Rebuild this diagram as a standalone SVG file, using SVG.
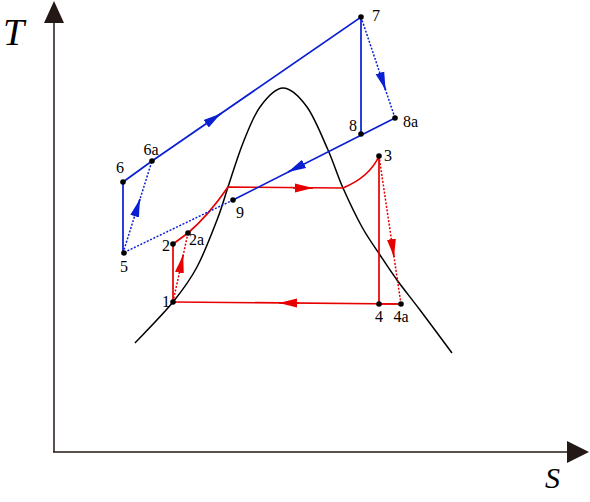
<svg xmlns="http://www.w3.org/2000/svg" width="590" height="502" viewBox="0 0 590 502">
<style>
.lbl{font-family:"Liberation Serif","Times New Roman",serif;font-size:16px;fill:#000}
.ax{font-family:"Liberation Serif","Times New Roman",serif;font-style:italic;fill:#000}
.red{stroke:#e60000;stroke-width:1.7;fill:none}
.blue{stroke:#0a1ed2;stroke-width:1.7;fill:none}
.dot{stroke-dasharray:2 1.6;stroke-width:1.5}
.pt{fill:#000}
</style>
<defs>
<marker id="ahR" markerUnits="userSpaceOnUse" markerWidth="20" markerHeight="12" refX="18" refY="5" orient="auto"><path d="M0,0.5 L18,5 L0,9.5 z" fill="#e60000"/></marker>
<marker id="ahB" markerUnits="userSpaceOnUse" markerWidth="20" markerHeight="12" refX="18" refY="5" orient="auto"><path d="M0,0.5 L18,5 L0,9.5 z" fill="#0a1ed2"/></marker>
</defs>
<rect width="590" height="502" fill="#fff"/>
<g id="axes">
<line x1="54" y1="452" x2="54" y2="20" stroke="#231815" stroke-width="1.5"/>
<polygon points="54,1 44,23 64,23" fill="#231815"/>
<line x1="53" y1="452" x2="568" y2="452" stroke="#231815" stroke-width="1.5"/>
<polygon points="589,452 567,441 567,463" fill="#231815"/>
<text class="ax" x="3" y="45" font-size="38">T</text>
<text class="ax" x="545" y="488" font-size="30">S</text>
</g>
<g id="dome">
<path d="M135,343 C141.3,336.2 162.7,314.7 173,302 C183.3,289.3 189.7,280.7 197,267 C204.3,253.3 211.8,233.3 217,220 C222.2,206.7 223.7,199.8 228,187 C232.3,174.2 237.7,156.3 243,143 C248.3,129.7 253.3,116.2 260,107 C266.7,97.8 275.2,88 283,88 C290.8,88 299.5,96.7 307,107 C314.5,117.3 322,136.5 328,150 C334,163.5 337.3,175.2 343,188 C348.7,200.8 355.8,215.8 362,227 C368.2,238.2 374.2,246.2 380,255 C385.8,263.8 390.3,270.8 397,280 C403.7,289.2 410.8,297.8 420,310 C429.2,322.2 446.7,345.8 452,353" fill="none" stroke="#000" stroke-width="1.5"/>
</g>
<g id="connectors">
<path class="red" d="M173,302 L173,244 L188,233 Q208,216 228,187 L343,188 C355,183 371,174 379,156 L379,304 L401,304"/>
<line class="red" x1="173" y1="302" x2="401" y2="304"/>
<line class="red dot" x1="173" y1="302" x2="188" y2="233"/>
<line class="red dot" x1="379" y1="156" x2="401" y2="304"/>
<path class="blue" d="M123,253 L123,182 L152,161 L361,17 L361,134"/>
<line class="blue" x1="395" y1="118" x2="233" y2="200"/>
<line class="blue dot" x1="123" y1="253" x2="152" y2="161"/>
<line class="blue dot" x1="361" y1="17" x2="395" y2="118"/>
<line class="blue dot" x1="233" y1="200" x2="123" y2="253"/>
<path class="red" d="M293,188 L313,188" marker-end="url(#ahR)"/>
<path class="red" d="M299,303 L279,303" marker-end="url(#ahR)"/>
<path class="red" stroke-width="1" d="M179.4,272.6 L183.2,255" marker-end="url(#ahR)"/>
<path class="red" stroke-width="1" d="M391.4,239.2 L394,257" marker-end="url(#ahR)"/>
<path class="blue" d="M206.2,123.7 L221,113.5" marker-end="url(#ahB)"/>
<path class="blue" stroke-width="1" d="M134.6,216.2 L140,199" marker-end="url(#ahB)"/>
<path class="blue" d="M304,163.9 L288,172" marker-end="url(#ahB)"/>
<path class="blue" stroke-width="1" d="M379.9,72.9 L385.6,90" marker-end="url(#ahB)"/>
</g>
<g id="n1"><circle class="pt" cx="173" cy="302" r="2.8"/><text class="lbl" x="170" y="307" text-anchor="end">1</text></g>
<g id="n2"><circle class="pt" cx="173" cy="244" r="2.8"/><text class="lbl" x="170" y="251" text-anchor="end">2</text></g>
<g id="n2a"><circle class="pt" cx="188" cy="233" r="2.8"/><text class="lbl" x="189" y="245">2a</text></g>
<g id="n3"><circle class="pt" cx="379" cy="156" r="2.8"/><text class="lbl" x="384" y="161">3</text></g>
<g id="n4"><circle class="pt" cx="379" cy="304" r="2.8"/><text class="lbl" x="379" y="322" text-anchor="middle">4</text></g>
<g id="n4a"><circle class="pt" cx="401" cy="304" r="2.8"/><text class="lbl" x="401" y="322" text-anchor="middle">4a</text></g>
<g id="n5"><circle class="pt" cx="124" cy="253" r="2.8"/><text class="lbl" x="124" y="272" text-anchor="middle">5</text></g>
<g id="n6"><circle class="pt" cx="123" cy="182" r="2.8"/><text class="lbl" x="120" y="173" text-anchor="middle">6</text></g>
<g id="n6a"><circle class="pt" cx="152" cy="161" r="2.8"/><text class="lbl" x="151" y="155" text-anchor="middle">6a</text></g>
<g id="n7"><circle class="pt" cx="361" cy="17" r="2.8"/><text class="lbl" x="372" y="21">7</text></g>
<g id="n8"><circle class="pt" cx="361" cy="134" r="2.8"/><text class="lbl" x="357" y="131" text-anchor="end">8</text></g>
<g id="n8a"><circle class="pt" cx="395" cy="118" r="2.8"/><text class="lbl" x="403" y="127">8a</text></g>
<g id="n9"><circle class="pt" cx="233" cy="200" r="2.8"/><text class="lbl" x="240" y="218" text-anchor="middle">9</text></g>
</svg>
